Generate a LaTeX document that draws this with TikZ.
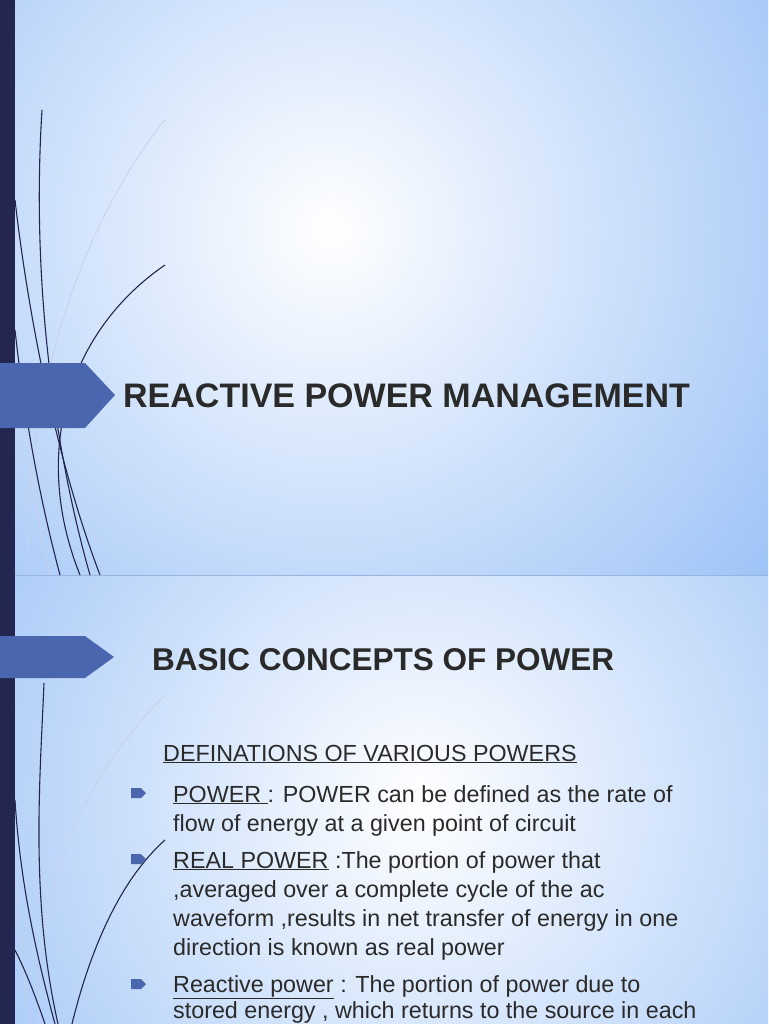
\documentclass[tikz,border=0pt]{standalone}
\usepackage{fontspec}
\setmainfont{Liberation Sans}
\begin{document}
\begin{tikzpicture}[x=1pt,y=-1pt,
  tab/.style={fill=tabblue,draw=none},
  body/.style={anchor=base west,inner sep=0pt,font=\fontsize{23.3}{26}\selectfont,text=txt},
  bul/.style={fill=tabblue,draw=none},
  dk/.style={draw=darkbar,line width=1.1pt},
  lt/.style={draw=white!70!tabblue,line width=0.8pt}]
\definecolor{tabblue}{HTML}{4A66AE}
\definecolor{darkbar}{HTML}{222650}
\definecolor{bgblue}{HTML}{9DC3F7}
\definecolor{txt}{HTML}{2A2A2A}
\useasboundingbox (0,0) rectangle (768,1024);
\fill[bgblue] (0,0) rectangle (768,1024);
% slide 1 background
\begin{scope}
\clip (0,0) rectangle (768,575);
\shade[inner color=white,outer color=bgblue] (330,230) circle (560);
\end{scope}
\begin{scope}
\clip (0,575) rectangle (768,1024);
\shade[inner color=white,outer color=bgblue] (420,800) circle (560);
\end{scope}
\draw[draw=bgblue!80!gray,line width=0.6pt] (15,575) -- (768,575);
% slide 1 curves
\begin{scope}
\clip (15,0) rectangle (768,575);
\draw[lt] (30,575) .. controls (20,450) and (60,250) .. (165,120);
\draw[lt] (50,575) .. controls (30,480) and (20,380) .. (15,330);
\draw[dk] (100,575) .. controls (60,470) and (30,330) .. (15,200);
\draw[dk] (90,575) .. controls (60,470) and (30,300) .. (42,110);
\draw[dk] (80,575) .. controls (30,450) and (70,330) .. (165,265);
\draw[dk] (60,575) .. controls (40,500) and (25,420) .. (15,330);
\end{scope}
% slide 2 curves
\begin{scope}
\clip (15,575) rectangle (768,1024);
\draw[lt] (40,1024) .. controls (30,900) and (80,780) .. (165,695);
\draw[lt] (30,1024) .. controls (20,950) and (18,900) .. (15,880);
\draw[dk] (58,1024) .. controls (30,900) and (40,780) .. (44,683);
\draw[dk] (55,1024) .. controls (35,950) and (20,880) .. (15,800);
\draw[dk] (72,1024) .. controls (90,950) and (120,880) .. (165,840);
\draw[dk] (45,1024) .. controls (30,980) and (20,960) .. (15,950);
\end{scope}
% dark bar
\fill[darkbar] (0,0) rectangle (15,1024);
% tabs
\fill[tab] (0,363) -- (85,363) -- (115,395) -- (85,428) -- (0,428) -- cycle;
\fill[tab] (0,636) -- (85,636) -- (114,657) -- (85,678) -- (0,678) -- cycle;
% titles
\node[anchor=base west,inner sep=0pt,font=\fontsize{34}{36}\selectfont\bfseries,text=txt] (t1) at (123,407) {REACTIVE POWER MANAGEMENT};
\node[anchor=base west,inner sep=0pt,font=\fontsize{31.5}{34}\selectfont\bfseries,text=txt] (t2) at (152,670) {BASIC CONCEPTS OF POWER};
% body
\node[body] (h) at (163,761) {\underline{DEFINATIONS OF VARIOUS POWERS}};
\foreach \yy/\nm in {793/b1,859/b2,984/b3}
  \fill[bul] (131,\yy-5) -- (141,\yy-5) -- (146,\yy) -- (141,\yy+5) -- (131,\yy+5) -- cycle;
\node[body] (p1) at (173,802) {\underline{POWER }: POWER can be defined as the rate of};
\node[body] (p2) at (173,831) {flow of energy at a given point of circuit};
\node[body] (r1) at (173,868) {\underline{REAL POWER} :The portion of power that};
\node[body] (r2) at (173,897) {,averaged over a complete cycle of the ac};
\node[body] (r3) at (173,926) {waveform ,results in net transfer of energy in one};
\node[body] (r4) at (173,955) {direction is known as real power};
\node[body] (q1) at (173,992) {\underline{Reactive power} : The portion of power due to};
\node[body] (q2) at (173,1018) {stored energy , which returns to the source in each};
\end{tikzpicture}
\end{document}
